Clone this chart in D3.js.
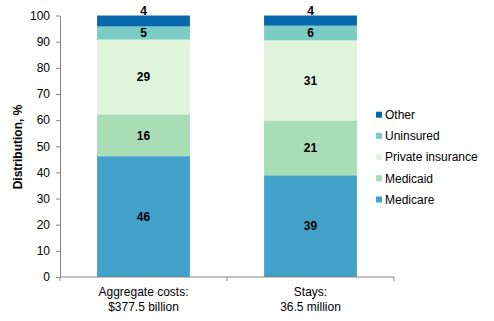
<!DOCTYPE html>
<html><head><meta charset="utf-8">
<script src="https://cdn.jsdelivr.net/npm/d3@7"></script>
<style>body{margin:0;background:#fff}svg{display:block;font-family:"Liberation Sans",Arial,sans-serif}</style>
</head><body><svg id="c" width="494" height="321"></svg>
<script>
const categories = [["Aggregate costs:", "$377.5 billion"], ["Stays:", "36.5 million"]];
const seriesNames = ["Medicare", "Medicaid", "Private insurance", "Uninsured", "Other"];
const medicare = [46.2, 38.9];
const medicaid = [16.0, 21.0];
const privateIns = [28.6, 30.6];
const uninsured = [5.0, 5.6];
const other = [4.2, 3.9];
const labels = [["46","16","29","5","4"],["39","21","31","6","4"]];
const yTicks = [0,10,20,30,40,50,60,70,80,90,100];
const colors = ["#43a2ca","#a8ddb5","#e0f3db","#7bccc4","#0868ac"];

const svg = d3.select("#c");
const m = {l:60, r:100, t:15.5, b:44};
const W = 494, H = 321;
const x = d3.scaleBand().domain([0,1]).range([m.l, 394]).paddingInner(0.444).paddingOuter(0.222);
const y = d3.scaleLinear().domain([0,100]).range([277, 15.5]);

const rows = [0,1].map(i => ({i, Medicare:medicare[i], Medicaid:medicaid[i], "Private insurance":privateIns[i], Uninsured:uninsured[i], Other:other[i]}));
const stacked = d3.stack().keys(seriesNames)(rows);

stacked.forEach((s, si) => {
  svg.append("g").selectAll("rect").data(s).join("rect")
    .attr("x", d => x(d.data.i)).attr("width", x.bandwidth())
    .attr("y", d => y(d[1])).attr("height", d => y(d[0]) - y(d[1]))
    .attr("fill", colors[si]);
  svg.append("g").selectAll("text").data(s).join("text")
    .attr("x", d => x(d.data.i) + x.bandwidth()/2)
    .attr("y", d => si === 4 ? y(d[1]) - 5 : (y(d[0]) + y(d[1]))/2)
    .attr("dy", "0.36em").attr("text-anchor","middle")
    .attr("font-size", 12).attr("font-weight","bold").attr("fill","#000")
    .text(d => labels[d.data.i][si]);
});

// Y axis
const ya = svg.append("g").attr("transform", `translate(${m.l},0)`)
  .call(d3.axisLeft(y).tickValues(yTicks).tickSize(4).tickSizeOuter(0).tickPadding(6));
ya.select(".domain").attr("stroke","#868686");
ya.selectAll(".tick line").attr("stroke","#868686");
ya.selectAll(".tick text").attr("font-size",12).attr("fill","#000").attr("font-family","Liberation Sans, Arial, sans-serif");

// X axis
const xa = svg.append("g").attr("transform", `translate(0,277)`);
xa.append("line").attr("x1", m.l).attr("x2", 394).attr("y1",0).attr("y2",0).attr("stroke","#868686");
[m.l, (m.l+394)/2, 394].forEach(t => xa.append("line").attr("x1",t).attr("x2",t).attr("y1",0).attr("y2",4).attr("stroke","#868686"));
categories.forEach((c, i) => {
  const t = svg.append("text").attr("x", x(i) + x.bandwidth()/2).attr("y", 296)
    .attr("text-anchor","middle").attr("font-size",12).attr("fill","#000");
  t.append("tspan").attr("x", x(i) + x.bandwidth()/2).text(c[0]);
  t.append("tspan").attr("x", x(i) + x.bandwidth()/2).attr("dy", 14.5).text(c[1]);
});

// Y title
svg.append("text").attr("transform","translate(22,147) rotate(-90)")
  .attr("text-anchor","middle").attr("font-size",12).attr("font-weight","bold").attr("fill","#000")
  .text("Distribution, %");

// Legend
const legOrder = [4,3,2,1,0];
legOrder.forEach((si, k) => {
  const cy = 114.7 + k*21.2;
  svg.append("rect").attr("x",376).attr("y",cy-3).attr("width",6).attr("height",6).attr("fill",colors[si]);
  svg.append("text").attr("x",385).attr("y",cy).attr("dy","0.36em").attr("font-size",12).attr("fill","#000").text(seriesNames[si]);
});
</script></body></html>
